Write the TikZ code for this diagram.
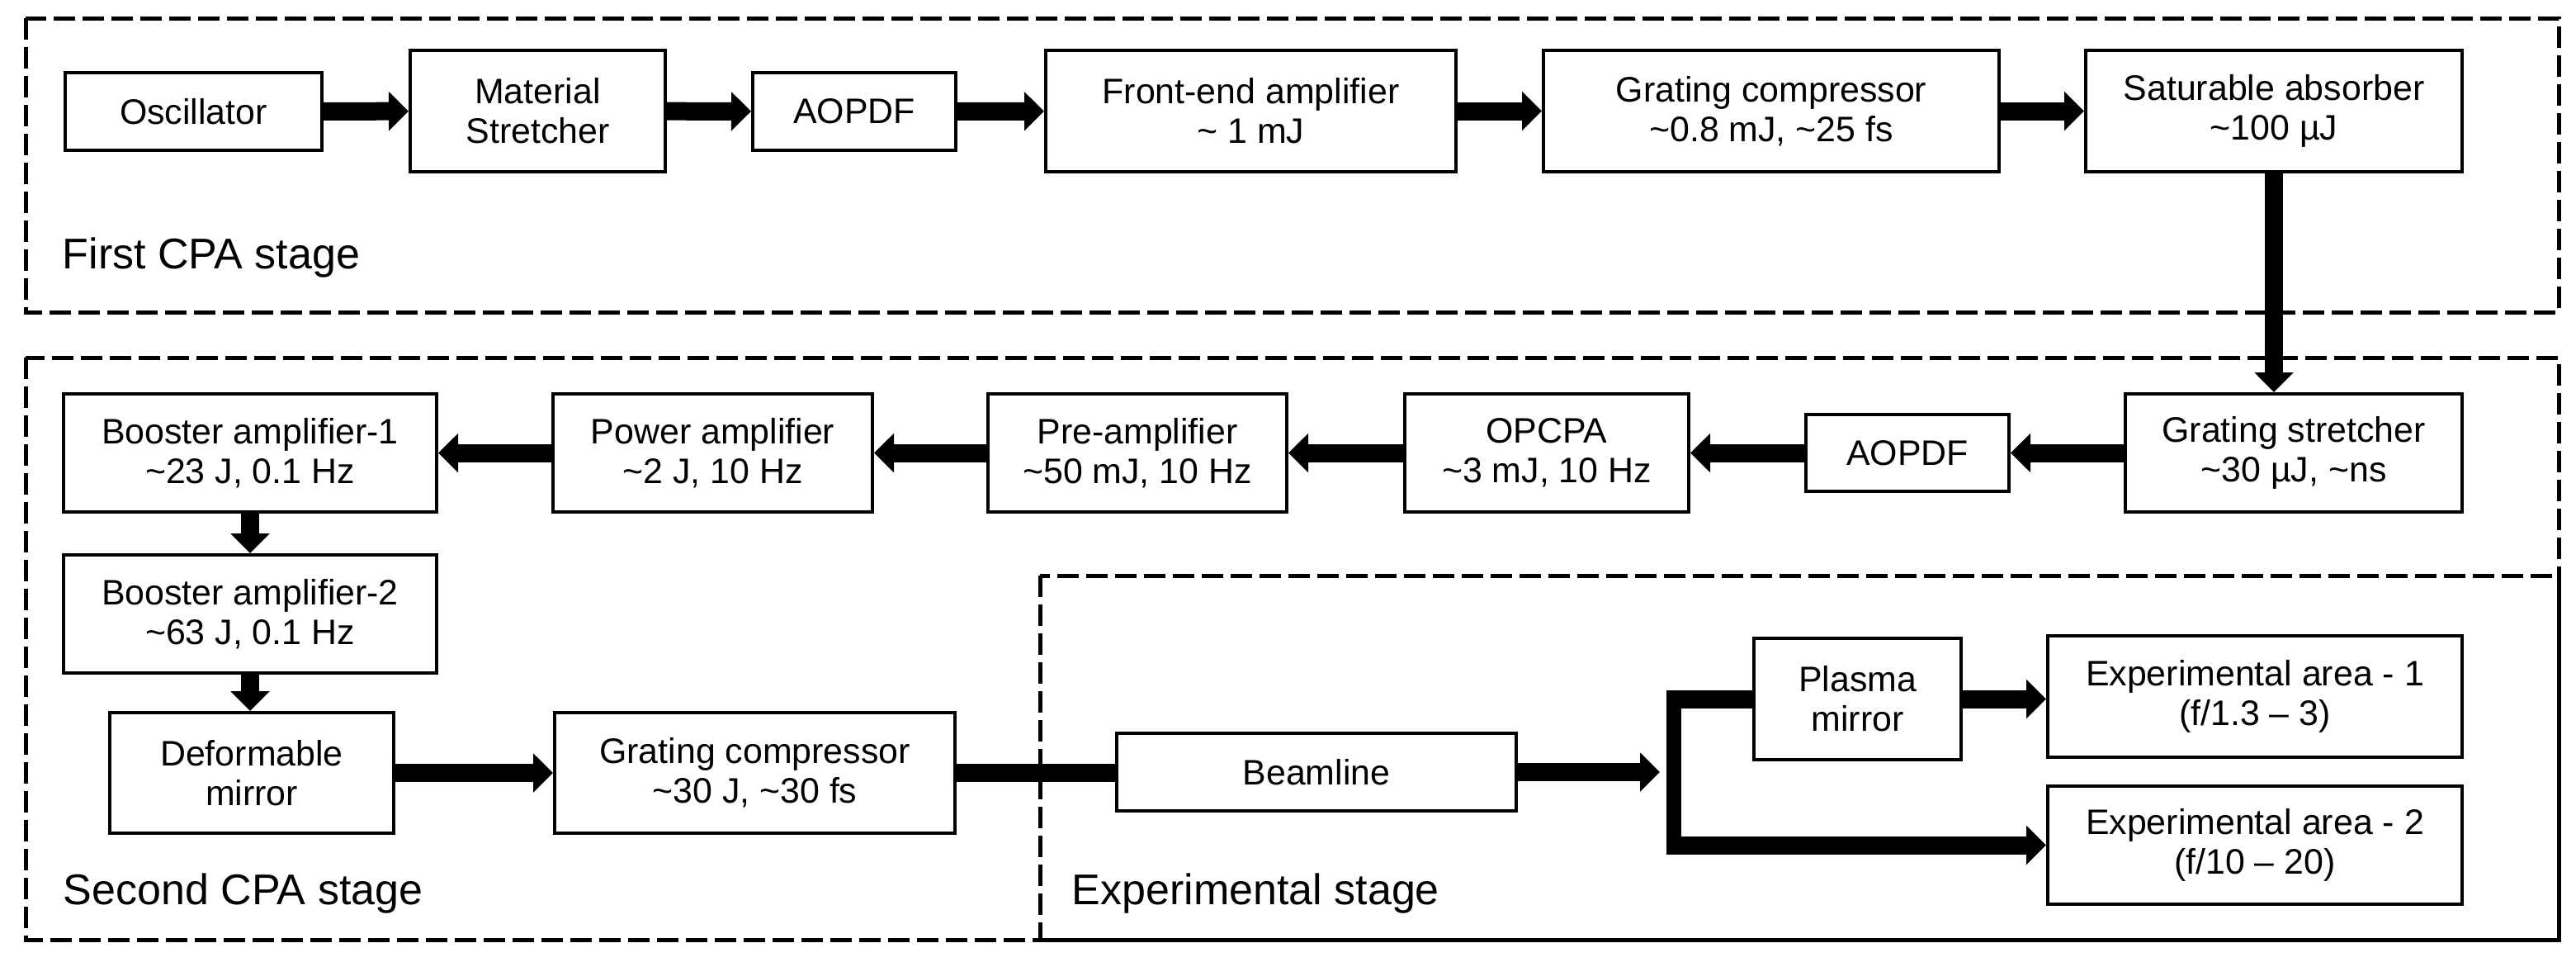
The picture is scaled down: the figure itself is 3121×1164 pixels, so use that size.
\documentclass[tikz,border=0pt]{standalone}
\usepackage{fontspec}
\setmainfont{Liberation Sans}
\usetikzlibrary{arrows.meta}
\newcommand{\apx}{\textasciitilde}
\newcommand{\boxfont}{\fontsize{12.2pt}{13.7pt}\selectfont}
\newcommand{\stagefont}{\fontsize{14.8pt}{16pt}\selectfont}
\tikzset{
  box/.style={draw, line width=0.4mm, align=center, inner sep=0pt, font=\boxfont},
  arr/.style={line width=2.2mm, -{Triangle[length=2.4mm, width=4.6mm]}},
  plainline/.style={line width=2.2mm},
  stagebox/.style={line width=0.5mm, dash pattern=on 2.6mm off 0.9mm},
  stagelabel/.style={anchor=base west, inner sep=0pt, font=\stagefont},
}
\begin{document}
\begin{tikzpicture}[x=0.1mm, y=-0.1mm]
\useasboundingbox (0,0) rectangle (3121,1164);
% stage frames
\draw[stagebox] (31,22) rectangle (3100,378);
\draw[stagebox] (31,433) rectangle (3100,1138);
\draw[stagebox] (1260,697) rectangle (3100,1138);
\node[stagelabel] (l1) at (75,325) {First CPA stage};
\node[stagelabel] (l2) at (76,1095) {Second CPA stage};
\node[stagelabel] (l3) at (1298,1095) {Experimental stage};
% row 1
\node[box, minimum width=31.1mm, minimum height=9.4mm] (osc) at (234.5,135) {Oscillator};
\node[box, minimum width=30.9mm, minimum height=14.7mm] (ms) at (651.5,134.5) {Material\\Stretcher};
\node[box, minimum width=24.6mm, minimum height=9.4mm] (ao1) at (1035,135) {AOPDF};
\node[box, minimum width=49.7mm, minimum height=14.7mm] (fe) at (1515.5,134.5) {Front-end amplifier\\\apx{} 1 mJ};
\node[box, minimum width=55.2mm, minimum height=14.7mm] (gc1) at (2146,134.5) {Grating compressor\\\apx0.8 mJ, \apx25 fs};
\node[box, minimum width=45.6mm, minimum height=14.7mm] (sa) at (2755,134.5) {Saturable absorber\\\apx100 µJ};
% row 2
\node[box, minimum width=45.2mm, minimum height=14.3mm] (ba1) at (303,548.5) {Booster amplifier-1\\\apx23 J, 0.1 Hz};
\node[box, minimum width=38.7mm, minimum height=14.3mm] (pa) at (863.5,548.5) {Power amplifier\\\apx2 J, 10 Hz};
\node[box, minimum width=36.2mm, minimum height=14.3mm] (pre) at (1378,548.5) {Pre-amplifier\\\apx50 mJ, 10 Hz};
\node[box, minimum width=34.4mm, minimum height=14.3mm] (opcpa) at (1874,548.5) {OPCPA\\\apx3 mJ, 10 Hz};
\node[box, minimum width=24.6mm, minimum height=9.3mm] (ao2) at (2311,548.5) {AOPDF};
\node[box, minimum width=40.8mm, minimum height=14.3mm] (gs) at (2779,548.5) {Grating stretcher\\\apx30 µJ, \apx ns};
% lower rows
\node[box, minimum width=45.2mm, minimum height=14.3mm] (ba2) at (303,743.5) {Booster amplifier-2\\\apx63 J, 0.1 Hz};
\node[box, minimum width=34.4mm, minimum height=14.6mm] (dm) at (305,936) {Deformable\\mirror};
\node[box, minimum width=48.5mm, minimum height=14.6mm] (gc2) at (914.5,936) {Grating compressor\\\apx30 J, \apx30 fs};
\node[box, minimum width=48.4mm, minimum height=9.4mm] (bl) at (1595,935) {Beamline};
\node[box, minimum width=25.1mm, minimum height=14.7mm] (pm) at (2250.5,846.5) {Plasma\\mirror};
\node[box, minimum width=50.2mm, minimum height=14.7mm] (ea1) at (2732,843.5) {Experimental area - 1\\(f/1.3 – 3)};
\node[box, minimum width=50.2mm, minimum height=14.3mm] (ea2) at (2732,1023.5) {Experimental area - 2\\(f/10 – 20)};
% connectors row 1
\draw[arr] (osc) -- (ms);
\draw[arr] (ms) -- (ao1);
\draw[arr] (ao1) -- (fe);
\draw[arr] (fe) -- (gc1);
\draw[arr] (gc1) -- (sa);
\draw[arr] (sa.south) -- (sa.south |- gs.north);
% row 2
\draw[arr] (gs) -- (ao2);
\draw[arr] (ao2) -- (opcpa);
\draw[arr] (opcpa) -- (pre);
\draw[arr] (pre) -- (pa);
\draw[arr] (pa) -- (ba1);
\draw[arr] (ba1) -- (ba2);
\draw[arr] (ba2.south) -- (ba2.south |- dm.north);
\draw[arr] (dm) -- (gc2);
\draw[plainline] (gc2.east) -- (bl.west |- gc2.east);
% splitter
\coordinate (bartop) at (2028,837);
\coordinate (barbot) at (2028,1035);
\coordinate (jin) at (2011,935);
\coordinate (j1) at (2019,846.5);
\coordinate (j2) at (2019,1023.5);
\draw[arr] (bl.east) -- (jin);
\draw[line width=1.8mm] (bartop) -- (barbot);
\draw[plainline] (j1) -- (pm.west);
\draw[arr] (pm.east) -- (ea1.west |- pm.east);
\draw[arr] (j2) -- (ea2.west);
\end{tikzpicture}
\end{document}
